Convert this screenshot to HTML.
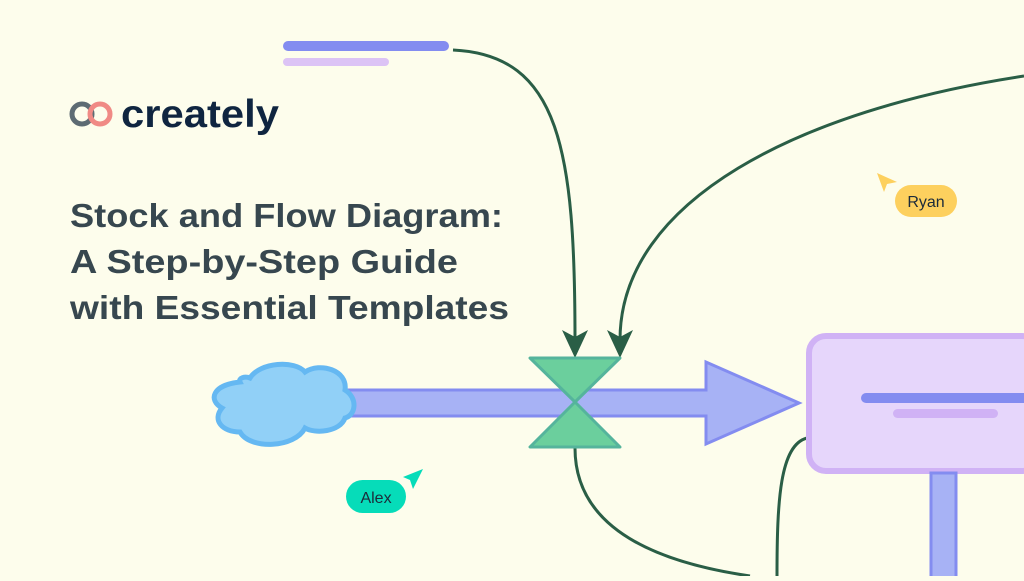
<!DOCTYPE html>
<html><head><style>
body{margin:0;width:1024px;height:576px;overflow:hidden;background:#fdfdec;font-family:"Liberation Sans",sans-serif}
</style></head><body>
<svg width="1024" height="576" viewBox="0 0 1024 576" xmlns="http://www.w3.org/2000/svg">
<rect width="1024" height="576" fill="#fdfdec"/>
<rect x="283" y="41" width="166" height="10" rx="5" fill="#838cf0"/>
<rect x="283" y="58" width="106" height="8" rx="4" fill="#dcc3f5"/>
<!-- logo -->
<circle cx="82" cy="114" r="10" fill="none" stroke="#5d6b73" stroke-width="5"/>
<circle cx="100" cy="114" r="10" fill="none" stroke="#f08a85" stroke-width="5"/>
<text x="121" y="127" font-size="39" font-weight="bold" fill="#0f2540" textLength="158" lengthAdjust="spacingAndGlyphs">creately</text>
<g font-size="33" font-weight="bold" fill="#37474f">
<text x="70" y="227" textLength="433" lengthAdjust="spacingAndGlyphs">Stock and Flow Diagram:</text>
<text x="70" y="273" textLength="388" lengthAdjust="spacingAndGlyphs">A Step-by-Step Guide</text>
<text x="70" y="319" textLength="439" lengthAdjust="spacingAndGlyphs">with Essential Templates</text>
</g>
<!-- connectors -->
<g fill="none" stroke="#2a5e46" stroke-width="3">
<path d="M453 50 C560 55 575 150 575 340"/>
<path d="M1024 76 C800 110 620 200 620 340"/>
<path d="M575 448 C575 520 640 560 750 576"/>
<path d="M807 438 C780 445 777 500 777 576"/>
</g>
<path d="M562 330 L575 358 L588 330 L575 337Z" fill="#2a5e46"/>
<path d="M607 330 L620 358 L633 330 L620 337Z" fill="#2a5e46"/>
<!-- flow band -->
<path d="M345 390 L706 390 L706 362 L799 403 L706 444 L706 416 L345 416Z" fill="#a7b2f5" stroke="#838cf0" stroke-width="3"/>
<!-- cloud -->
<path d="M250 378 C260 362 295 360 305 372 C320 362 348 370 345 390 C358 398 356 415 345 418 C340 432 315 434 305 428 C295 448 250 450 240 432 C222 432 212 420 222 408 C208 400 212 385 240 382 C238 378 245 376 250 378Z" fill="#91d0f7" stroke="#65b8f2" stroke-width="5"/>
<!-- hourglass -->
<path d="M530 358 L620 358 L575 402 Z M575 402 L530 447 L620 447 Z" fill="#6bcf9d" stroke="#55b49c" stroke-width="3" stroke-linejoin="round"/>
<!-- stock box -->
<rect x="809" y="336" width="230" height="135" rx="17" fill="#e6d6fb" stroke="#d0b2f5" stroke-width="6"/>
<rect x="861" y="393" width="170" height="10" rx="5" fill="#838cf0"/>
<rect x="893" y="409" width="105" height="9" rx="4.5" fill="#d0b2f5"/>
<rect x="931" y="473" width="25" height="110" fill="#a7b2f5" stroke="#838cf0" stroke-width="3"/>
<!-- cursors -->
<path d="M877 173 L897 182 L887 184 L884 192Z" fill="#fdd05e"/>
<rect x="895" y="185" width="62" height="32" rx="16" fill="#fdd05e"/>
<text x="926" y="207" font-size="16" fill="#1c2b3a" text-anchor="middle">Ryan</text>
<path d="M423 469 L413 489 L410 480 L403 477Z" fill="#06dcb9"/>
<rect x="346" y="480" width="60" height="33" rx="16.5" fill="#06dcb9"/>
<text x="376" y="503" font-size="16" fill="#1c2b3a" text-anchor="middle">Alex</text>
</svg>
</body></html>
